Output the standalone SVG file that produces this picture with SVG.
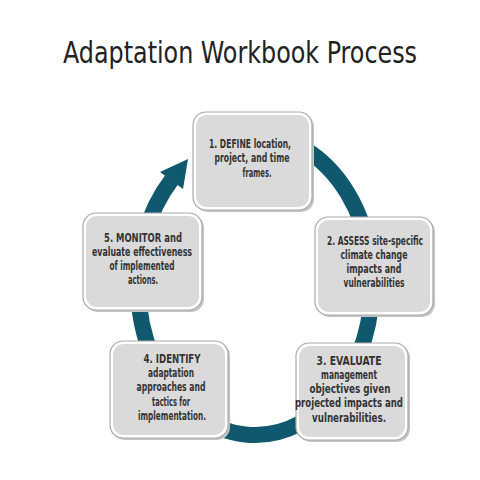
<svg xmlns="http://www.w3.org/2000/svg" width="480" height="480" viewBox="0 0 480 480">
<style>
.title{font-family:"Liberation Sans Narrow","DejaVu Sans Condensed","Liberation Sans",sans-serif;font-size:31px;fill:#222;text-anchor:middle;}
.lbl{font-family:"Liberation Sans Narrow","DejaVu Sans Condensed","Liberation Sans",sans-serif;font-size:12.2px;font-weight:bold;fill:#333;text-anchor:middle;}
.outer{fill:#ffffff;stroke:#a9a9a9;stroke-width:1.2;}
.inner{fill:#dadada;}
.shadow{fill:#c4c4c4;}
.ring{fill:none;stroke:#0f586d;stroke-width:16;}
.head{fill:#0f586d;}
</style>
<rect width="480" height="480" fill="#ffffff"/>
<text class="title" x="240" y="63" textLength="354" lengthAdjust="spacingAndGlyphs">Adaptation Workbook Process</text>
<g id="connectors">
<path class="ring" d="M 255 135 A 117 150 0 1 1 171.5 180"/>
<polygon class="head" points="188,159 183,189 160,172"/>
</g>
<g id="node1">
<rect class="shadow" x="195" y="114" width="119" height="98" rx="13"/>
<rect class="outer" x="193" y="112" width="119" height="98" rx="13"/>
<rect class="inner" x="196" y="115" width="113" height="92" rx="11"/>
<text class="lbl" x="250" y="148" textLength="82" lengthAdjust="spacingAndGlyphs">1. DEFINE location,</text>
<text class="lbl" x="252" y="162" textLength="75" lengthAdjust="spacingAndGlyphs">project, and time</text>
<text class="lbl" x="257" y="177" textLength="29" lengthAdjust="spacingAndGlyphs">frames.</text>
</g>
<g id="node2">
<rect class="shadow" x="317" y="219" width="118" height="98" rx="13"/>
<rect class="outer" x="315" y="217" width="118" height="98" rx="13"/>
<rect class="inner" x="318" y="220" width="112" height="92" rx="11"/>
<text class="lbl" x="375" y="245" textLength="96" lengthAdjust="spacingAndGlyphs">2. ASSESS site-specific</text>
<text class="lbl" x="374" y="259" textLength="67" lengthAdjust="spacingAndGlyphs">climate change</text>
<text class="lbl" x="374" y="273" textLength="55" lengthAdjust="spacingAndGlyphs">impacts and</text>
<text class="lbl" x="374" y="287" textLength="61" lengthAdjust="spacingAndGlyphs">vulnerabilities</text>
</g>
<g id="node3">
<rect class="shadow" x="298" y="345" width="112" height="97" rx="13"/>
<rect class="outer" x="296" y="343" width="112" height="97" rx="13"/>
<rect class="inner" x="299" y="346" width="106" height="91" rx="11"/>
<text class="lbl" x="349" y="365" textLength="65" lengthAdjust="spacingAndGlyphs">3. EVALUATE</text>
<text class="lbl" x="349" y="379" textLength="56" lengthAdjust="spacingAndGlyphs">management</text>
<text class="lbl" x="350" y="393" textLength="81" lengthAdjust="spacingAndGlyphs">objectives given</text>
<text class="lbl" x="349" y="407" textLength="108" lengthAdjust="spacingAndGlyphs">projected impacts and</text>
<text class="lbl" x="349" y="422" textLength="74" lengthAdjust="spacingAndGlyphs">vulnerabilities.</text>
</g>
<g id="node4">
<rect class="shadow" x="112" y="343" width="118" height="97" rx="13"/>
<rect class="outer" x="110" y="341" width="118" height="97" rx="13"/>
<rect class="inner" x="113" y="344" width="112" height="91" rx="11"/>
<text class="lbl" x="172" y="363" textLength="57" lengthAdjust="spacingAndGlyphs">4. IDENTIFY</text>
<text class="lbl" x="171" y="377" textLength="46" lengthAdjust="spacingAndGlyphs">adaptation</text>
<text class="lbl" x="171" y="391" textLength="69" lengthAdjust="spacingAndGlyphs">approaches and</text>
<text class="lbl" x="171" y="406" textLength="38" lengthAdjust="spacingAndGlyphs">tactics for</text>
<text class="lbl" x="172" y="420" textLength="68" lengthAdjust="spacingAndGlyphs">implementation.</text>
</g>
<g id="node5">
<rect class="shadow" x="85" y="215" width="119" height="97" rx="13"/>
<rect class="outer" x="83" y="213" width="119" height="97" rx="13"/>
<rect class="inner" x="86" y="216" width="113" height="91" rx="11"/>
<text class="lbl" x="143" y="242" textLength="78" lengthAdjust="spacingAndGlyphs">5. MONITOR and</text>
<text class="lbl" x="142" y="256" textLength="100" lengthAdjust="spacingAndGlyphs">evaluate effectiveness</text>
<text class="lbl" x="142" y="270" textLength="65" lengthAdjust="spacingAndGlyphs">of implemented</text>
<text class="lbl" x="143" y="284" textLength="30" lengthAdjust="spacingAndGlyphs">actions.</text>
</g>
</svg>
